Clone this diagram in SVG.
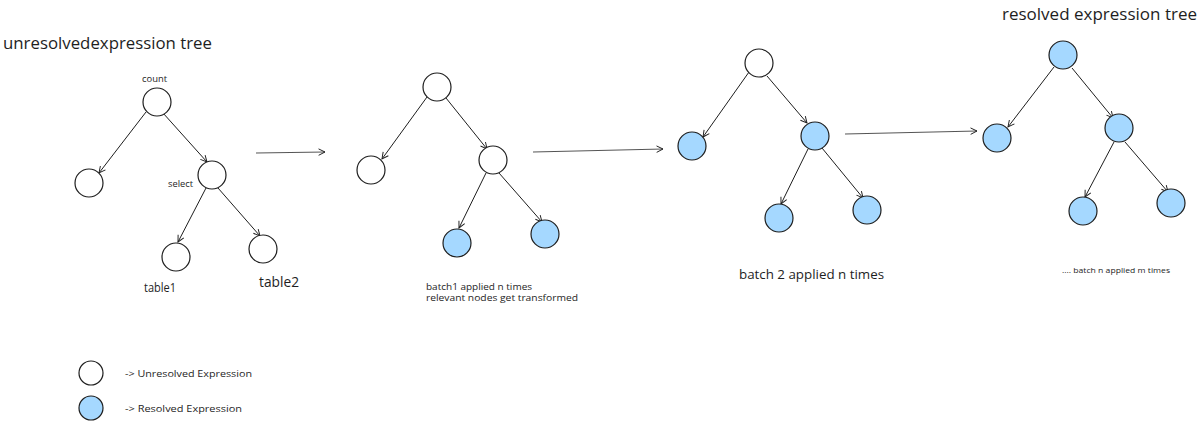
<svg xmlns="http://www.w3.org/2000/svg" width="1200" height="421" viewBox="0 0 1200 421">
<style>
.n{fill:#ffffff;stroke:#1e1e1e;stroke-width:1.2}
.b{fill:#a5d8ff;stroke:#1e1e1e;stroke-width:1.2}
.e{stroke:#1e1e1e;stroke-width:1;fill:none;marker-end:url(#ah)}
.a{stroke:#555555;stroke-width:1.2;fill:none;marker-end:url(#ah)}
text{font-family:"Open Sans","Liberation Sans",sans-serif;fill:#1e1e1e}
.t{font-size:17px}
.s{font-size:9px}
.m{font-size:13px}
</style>
<defs>
<marker id="ah" viewBox="0 0 10 10" refX="9" refY="5" markerWidth="8" markerHeight="8" markerUnits="userSpaceOnUse" orient="auto">
<path d="M1,1 L9,5 L1,9" fill="none" stroke="#1e1e1e" stroke-width="1.2"/>
</marker>
</defs>
<rect width="1200" height="421" fill="#ffffff"/>
<g id="connectors">
<line class="e" x1="146" y1="112" x2="99" y2="173"/>
<line class="e" x1="163" y1="113" x2="207" y2="162"/>
<line class="e" x1="206" y1="188" x2="178" y2="242"/>
<line class="e" x1="218" y1="188" x2="260" y2="236"/>
<line class="a" x1="256" y1="153" x2="325" y2="152"/>
<line class="e" x1="427" y1="97" x2="382" y2="159"/>
<line class="e" x1="446" y1="98" x2="487" y2="149"/>
<line class="e" x1="486" y1="173" x2="459" y2="228"/>
<line class="e" x1="499" y1="173" x2="542" y2="222"/>
<line class="a" x1="533" y1="152" x2="663" y2="149"/>
<line class="e" x1="749" y1="72" x2="703" y2="137"/>
<line class="e" x1="767" y1="76" x2="807" y2="123"/>
<line class="e" x1="808" y1="149" x2="781" y2="204"/>
<line class="e" x1="822" y1="148" x2="863" y2="198"/>
<line class="a" x1="845" y1="134" x2="977" y2="131"/>
<line class="e" x1="1054" y1="67" x2="1008" y2="127"/>
<line class="e" x1="1072" y1="68" x2="1113" y2="118"/>
<line class="e" x1="1114" y1="142" x2="1085" y2="197"/>
<line class="e" x1="1125" y1="142" x2="1168" y2="192"/>
</g>
<g id="title-unresolved"><text class="t" x="3" y="49" textLength="209" lengthAdjust="spacingAndGlyphs">unresolvedexpression tree</text></g>
<g id="t1-count"><circle class="n" cx="157" cy="102" r="14"/><text class="s" x="142" y="82" textLength="25" lengthAdjust="spacingAndGlyphs">count</text></g>
<g id="t1-left"><circle class="n" cx="89" cy="183" r="14"/></g>
<g id="t1-select"><circle class="n" cx="212" cy="175" r="14"/><text class="s" x="168" y="187" textLength="25" lengthAdjust="spacingAndGlyphs">select</text></g>
<g id="t1-table1"><circle class="n" cx="176" cy="257" r="14"/><text class="m" x="144" y="292" textLength="32" lengthAdjust="spacingAndGlyphs">table1</text></g>
<g id="t1-table2"><circle class="n" cx="263" cy="249" r="14"/><text class="m" x="259" y="287" style="font-size:15px" textLength="40" lengthAdjust="spacingAndGlyphs">table2</text></g>
<g id="t2-root"><circle class="n" cx="437" cy="87" r="14"/></g>
<g id="t2-left"><circle class="n" cx="371" cy="170" r="14"/></g>
<g id="t2-mid"><circle class="n" cx="493" cy="160" r="14"/></g>
<g id="t2-bl"><circle class="b" cx="457" cy="243" r="14"/></g>
<g id="t2-br"><circle class="b" cx="545" cy="234" r="14"/></g>
<g id="t2-label"><text class="s" x="426" y="290" textLength="106" lengthAdjust="spacingAndGlyphs">batch1 applied n times</text><text class="s" x="426" y="301" textLength="152" lengthAdjust="spacingAndGlyphs">relevant nodes get transformed</text></g>
<g id="t3-root"><circle class="n" cx="759" cy="63" r="14"/></g>
<g id="t3-left"><circle class="b" cx="692" cy="146" r="14"/></g>
<g id="t3-mid"><circle class="b" cx="815" cy="136" r="14"/></g>
<g id="t3-bl"><circle class="b" cx="779" cy="218" r="14"/></g>
<g id="t3-br"><circle class="b" cx="867" cy="210" r="14"/></g>
<g id="t3-label"><text class="m" x="739" y="279" textLength="145" lengthAdjust="spacingAndGlyphs">batch 2 applied n times</text></g>
<g id="title-resolved"><text class="t" x="1002" y="20" textLength="195" lengthAdjust="spacingAndGlyphs">resolved expression tree</text></g>
<g id="t4-root"><circle class="b" cx="1063" cy="55" r="14"/></g>
<g id="t4-left"><circle class="b" cx="997" cy="138" r="14"/></g>
<g id="t4-mid"><circle class="b" cx="1119" cy="128" r="14"/></g>
<g id="t4-bl"><circle class="b" cx="1083" cy="211" r="14"/></g>
<g id="t4-br"><circle class="b" cx="1171" cy="203" r="14"/></g>
<g id="t4-label"><text x="1062" y="273" style="font-size:7.5px" textLength="108" lengthAdjust="spacingAndGlyphs">.... batch n applied m times</text></g>
<g id="legend-unresolved"><circle class="n" cx="91" cy="373" r="12"/><text class="s" x="125" y="377" textLength="127" lengthAdjust="spacingAndGlyphs">-&gt; Unresolved Expression</text></g>
<g id="legend-resolved"><circle class="b" cx="91" cy="408" r="12"/><text class="s" x="125" y="412" textLength="117" lengthAdjust="spacingAndGlyphs">-&gt; Resolved Expression</text></g>
</svg>
